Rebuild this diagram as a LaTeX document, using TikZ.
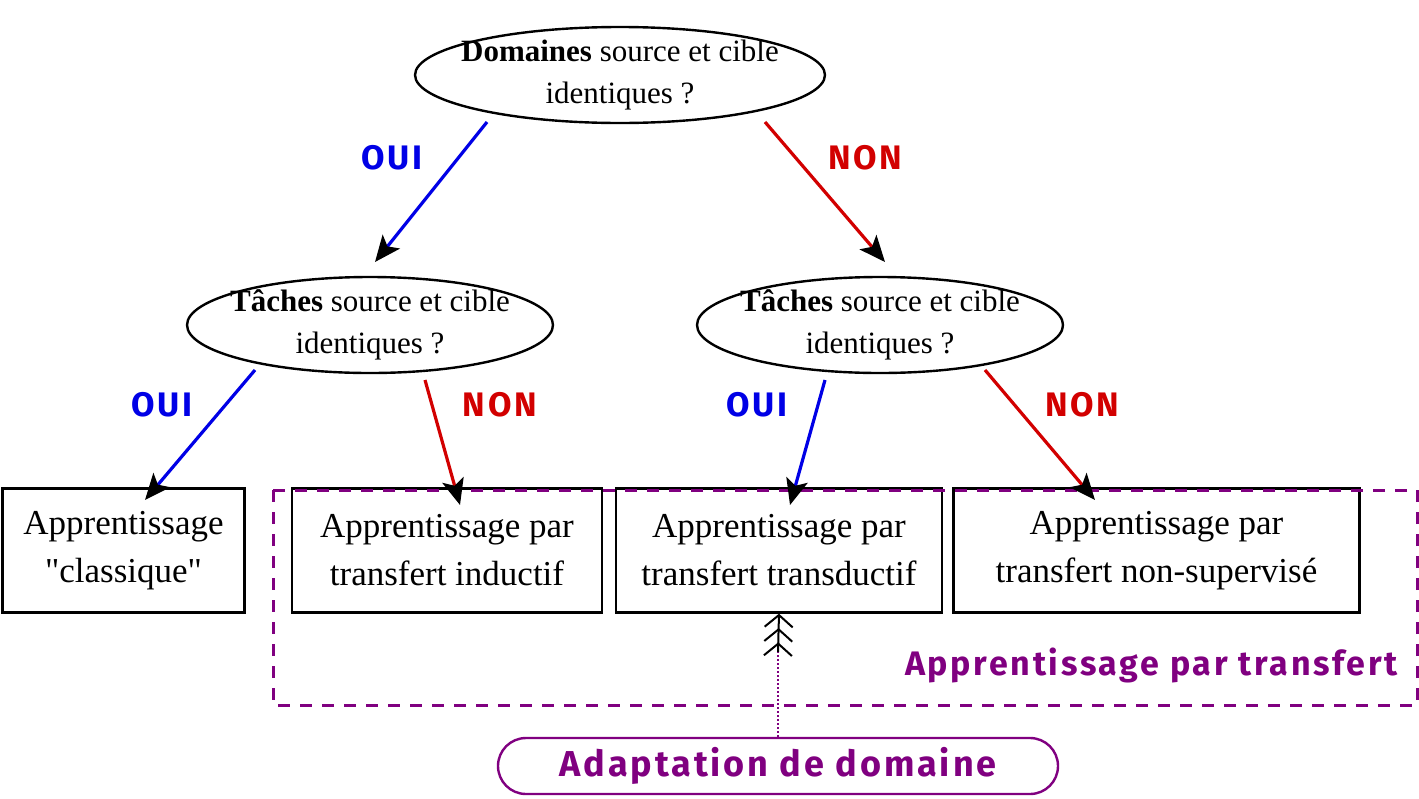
\documentclass[tikz,border=0pt]{standalone}
\usepackage{fontspec}
\setmainfont{Liberation Serif}
\newfontfamily\lab{Fira Sans}[LetterSpace=8]
\usetikzlibrary{shapes.geometric,arrows.meta}
\definecolor{purp}{RGB}{128,0,128}
\definecolor{myblue}{RGB}{0,0,230}
\definecolor{myred}{RGB}{210,0,0}
\begin{document}
\begin{tikzpicture}[x=0.5pt,y=-0.5pt,
  q/.style={font=\fontsize{15.5}{21}\selectfont,align=center,inner sep=0pt},
  el/.style={line width=1.2pt},
  box/.style={draw,line width=1.2pt,minimum height=62pt,font=\fontsize{17.5}{24}\selectfont,align=center,inner sep=1pt},
  arr/.style={line width=1.6pt,-{Stealth[black,length=13pt,width=11pt,inset=3pt]}},
  lb/.style={font=\lab\bfseries\fontsize{17}{18}\selectfont}]
\useasboundingbox (0,0) rectangle (1419,798);
\node[q] (top) at (620,75) {\textbf{Domaines} source et cible\\identiques ?};
\node[q] (l) at (370,325) {\textbf{Tâches} source et cible\\identiques ?};
\node[q] (r) at (880,325) {\textbf{Tâches} source et cible\\identiques ?};
\draw[el] (top.center) ellipse [x radius=102.5pt,y radius=24pt];
\draw[el] (l.center) ellipse [x radius=91.5pt,y radius=24pt];
\draw[el] (r.center) ellipse [x radius=91.5pt,y radius=24pt];
\node[box,minimum width=121pt] (b1) at (123.5,550.5) {Apprentissage\\\textquotedbl classique\textquotedbl};
\node[box,minimum width=155pt] (b2) at (447,550.5) {Apprentissage par\\transfert inductif};
\node[box,minimum width=163pt] (b3) at (779,550.5) {Apprentissage par\\transfert transductif};
\node[box,minimum width=203pt] (b4) at (1156.5,550.5) {Apprentissage par\\transfert non-supervisé};
\draw[purp,line width=1.5pt,dash pattern=on 6pt off 5pt] (273,490) rectangle (1417,705);
\node[lb,purp,anchor=east] (tl) at (1405,665) {Apprentissage par transfert};
\node[draw=purp,line width=1.2pt,rounded corners=14pt,minimum width=280pt,minimum height=28pt,lb,purp,font=\lab\bfseries\fontsize{18}{20}\selectfont] (ad) at (778,766) {Adaptation de domaine};
\coordinate (a1) at (487,122); \coordinate (a2) at (375,262);
\coordinate (a3) at (765,122); \coordinate (a4) at (885,262);
\coordinate (c1) at (255,370); \coordinate (c2) at (145,500);
\coordinate (c3) at (425,380); \coordinate (c4) at (460,505);
\coordinate (c5) at (825,380); \coordinate (c6) at (790,505);
\coordinate (c7) at (985,370); \coordinate (c8) at (1095,500);
\draw[arr,myblue] (a1) -- (a2);
\draw[arr,myred] (a3) -- (a4);
\draw[arr,myblue] (c1) -- (c2);
\draw[arr,myred] (c3) -- (c4);
\draw[arr,myblue] (c5) -- (c6);
\draw[arr,myred] (c7) -- (c8);
\node[lb,myblue] at (392,158) {OUI};
\node[lb,myred] at (865,158) {NON};
\node[lb,myblue] at (162,405) {OUI};
\node[lb,myred] at (500,405) {NON};
\node[lb,myblue] at (757,405) {OUI};
\node[lb,myred] at (1082,405) {NON};
\draw[purp,line width=1pt,densely dotted] (ad.north) -- (778,650);
\draw[black,line width=1pt,-{Straight Barb[length=6pt,width=14pt] Straight Barb[length=6pt,width=14pt] Straight Barb[length=6pt,width=14pt]}] (778,652) -- (b3.south);
\end{tikzpicture}
\end{document}
